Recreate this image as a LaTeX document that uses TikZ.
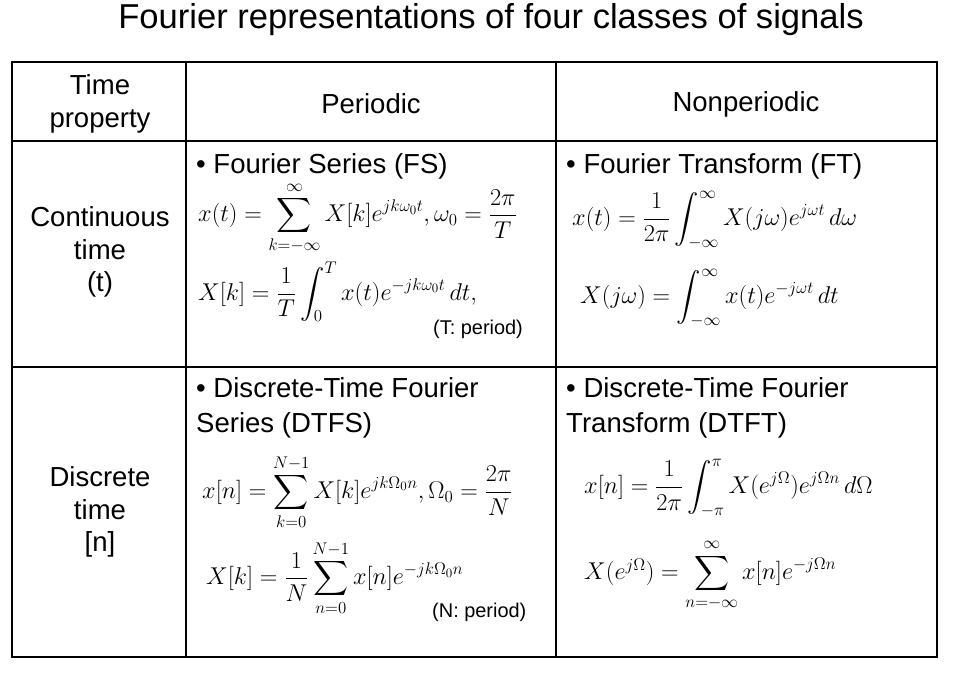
\documentclass[tikz,border=0pt]{standalone}
\usepackage{fontspec}
\setmainfont{Liberation Sans}
\usepackage{amsmath}
\begin{document}
\begin{tikzpicture}[x=0.03cm,y=-0.03cm,
  txt/.style={font=\fontsize{23.5}{28}\selectfont,align=center,inner sep=0pt},
  lt/.style={font=\fontsize{23.5}{30}\selectfont,anchor=west,inner sep=0pt},
  eq/.style={font=\fontsize{21}{25}\selectfont,anchor=west,inner sep=0pt},
  sm/.style={font=\fontsize{17}{20}\selectfont,anchor=west,inner sep=0pt},
  grid/.style={line width=1.2pt}]
\useasboundingbox (0,0) rectangle (961,672);
\fill[white] (0,0) rectangle (961,672);
\node[font=\fontsize{29.5}{34}\selectfont,inner sep=0pt] (title) at (491,20) {Fourier representations of four classes of signals};
\draw[line width=2pt] (12,62) rectangle (937,657);
\draw[grid] (186,62) -- (186,657);
\draw[grid] (556,62) -- (556,657);
\draw[grid] (12,141) -- (937,141);
\draw[grid] (12,367) -- (937,367);
\node[txt] (h0) at (100,104) {Time\\property};
\node[txt] (h1) at (371,104) {Periodic};
\node[txt] (h2) at (746,104) {Nonperiodic};
\node[txt] (r1) at (100,252) {Continuous\\time\\(t)};
\node[txt] (r2) at (100,512) {Discrete\\time\\{[n]}};
% FS
\node[lt] (fs) at (196,166) {• Fourier Series (FS)};
\node[eq] (fs1) at (198,218) {$x(t)=\displaystyle\sum_{k=-\infty}^{\infty}X[k]e^{jk\omega_0 t},\omega_0=\frac{2\pi}{T}$};
\node[eq] (fs2) at (198,292) {$X[k]=\dfrac{1}{T}\displaystyle\int_0^T x(t)e^{-jk\omega_0 t}\,dt,$};
\node[sm] (fs3) at (433,329) {(T: period)};
% FT
\node[lt] (ft) at (566,166) {• Fourier Transform (FT)};
\node[eq] (ft1) at (572,220) {$x(t)=\dfrac{1}{2\pi}\displaystyle\int_{-\infty}^{\infty}X(j\omega)e^{j\omega t}\,d\omega$};
\node[eq] (ft2) at (580,298) {$X(j\omega)=\displaystyle\int_{-\infty}^{\infty}x(t)e^{-j\omega t}\,dt$};
% DTFS
\node[lt,align=left] (dtfs) at (196,408) {• Discrete-Time Fourier\\Series (DTFS)};
\node[eq] (d1) at (202,492) {$x[n]=\displaystyle\sum_{k=0}^{N-1}X[k]e^{jk\Omega_0 n},\Omega_0=\frac{2\pi}{N}$};
\node[eq] (d2) at (206,578) {$X[k]=\dfrac{1}{N}\displaystyle\sum_{n=0}^{N-1}x[n]e^{-jk\Omega_0 n}$};
\node[sm] (d3) at (432,612) {(N: period)};
% DTFT
\node[lt,align=left] (dtft) at (566,408) {• Discrete-Time Fourier\\Transform (DTFT)};
\node[eq] (t1) at (584,488) {$x[n]=\dfrac{1}{2\pi}\displaystyle\int_{-\pi}^{\pi}X(e^{j\Omega})e^{j\Omega n}\,d\Omega$};
\node[eq] (t2) at (584,575) {$X(e^{j\Omega})=\displaystyle\sum_{n=-\infty}^{\infty}x[n]e^{-j\Omega n}$};
\end{tikzpicture}
\end{document}
